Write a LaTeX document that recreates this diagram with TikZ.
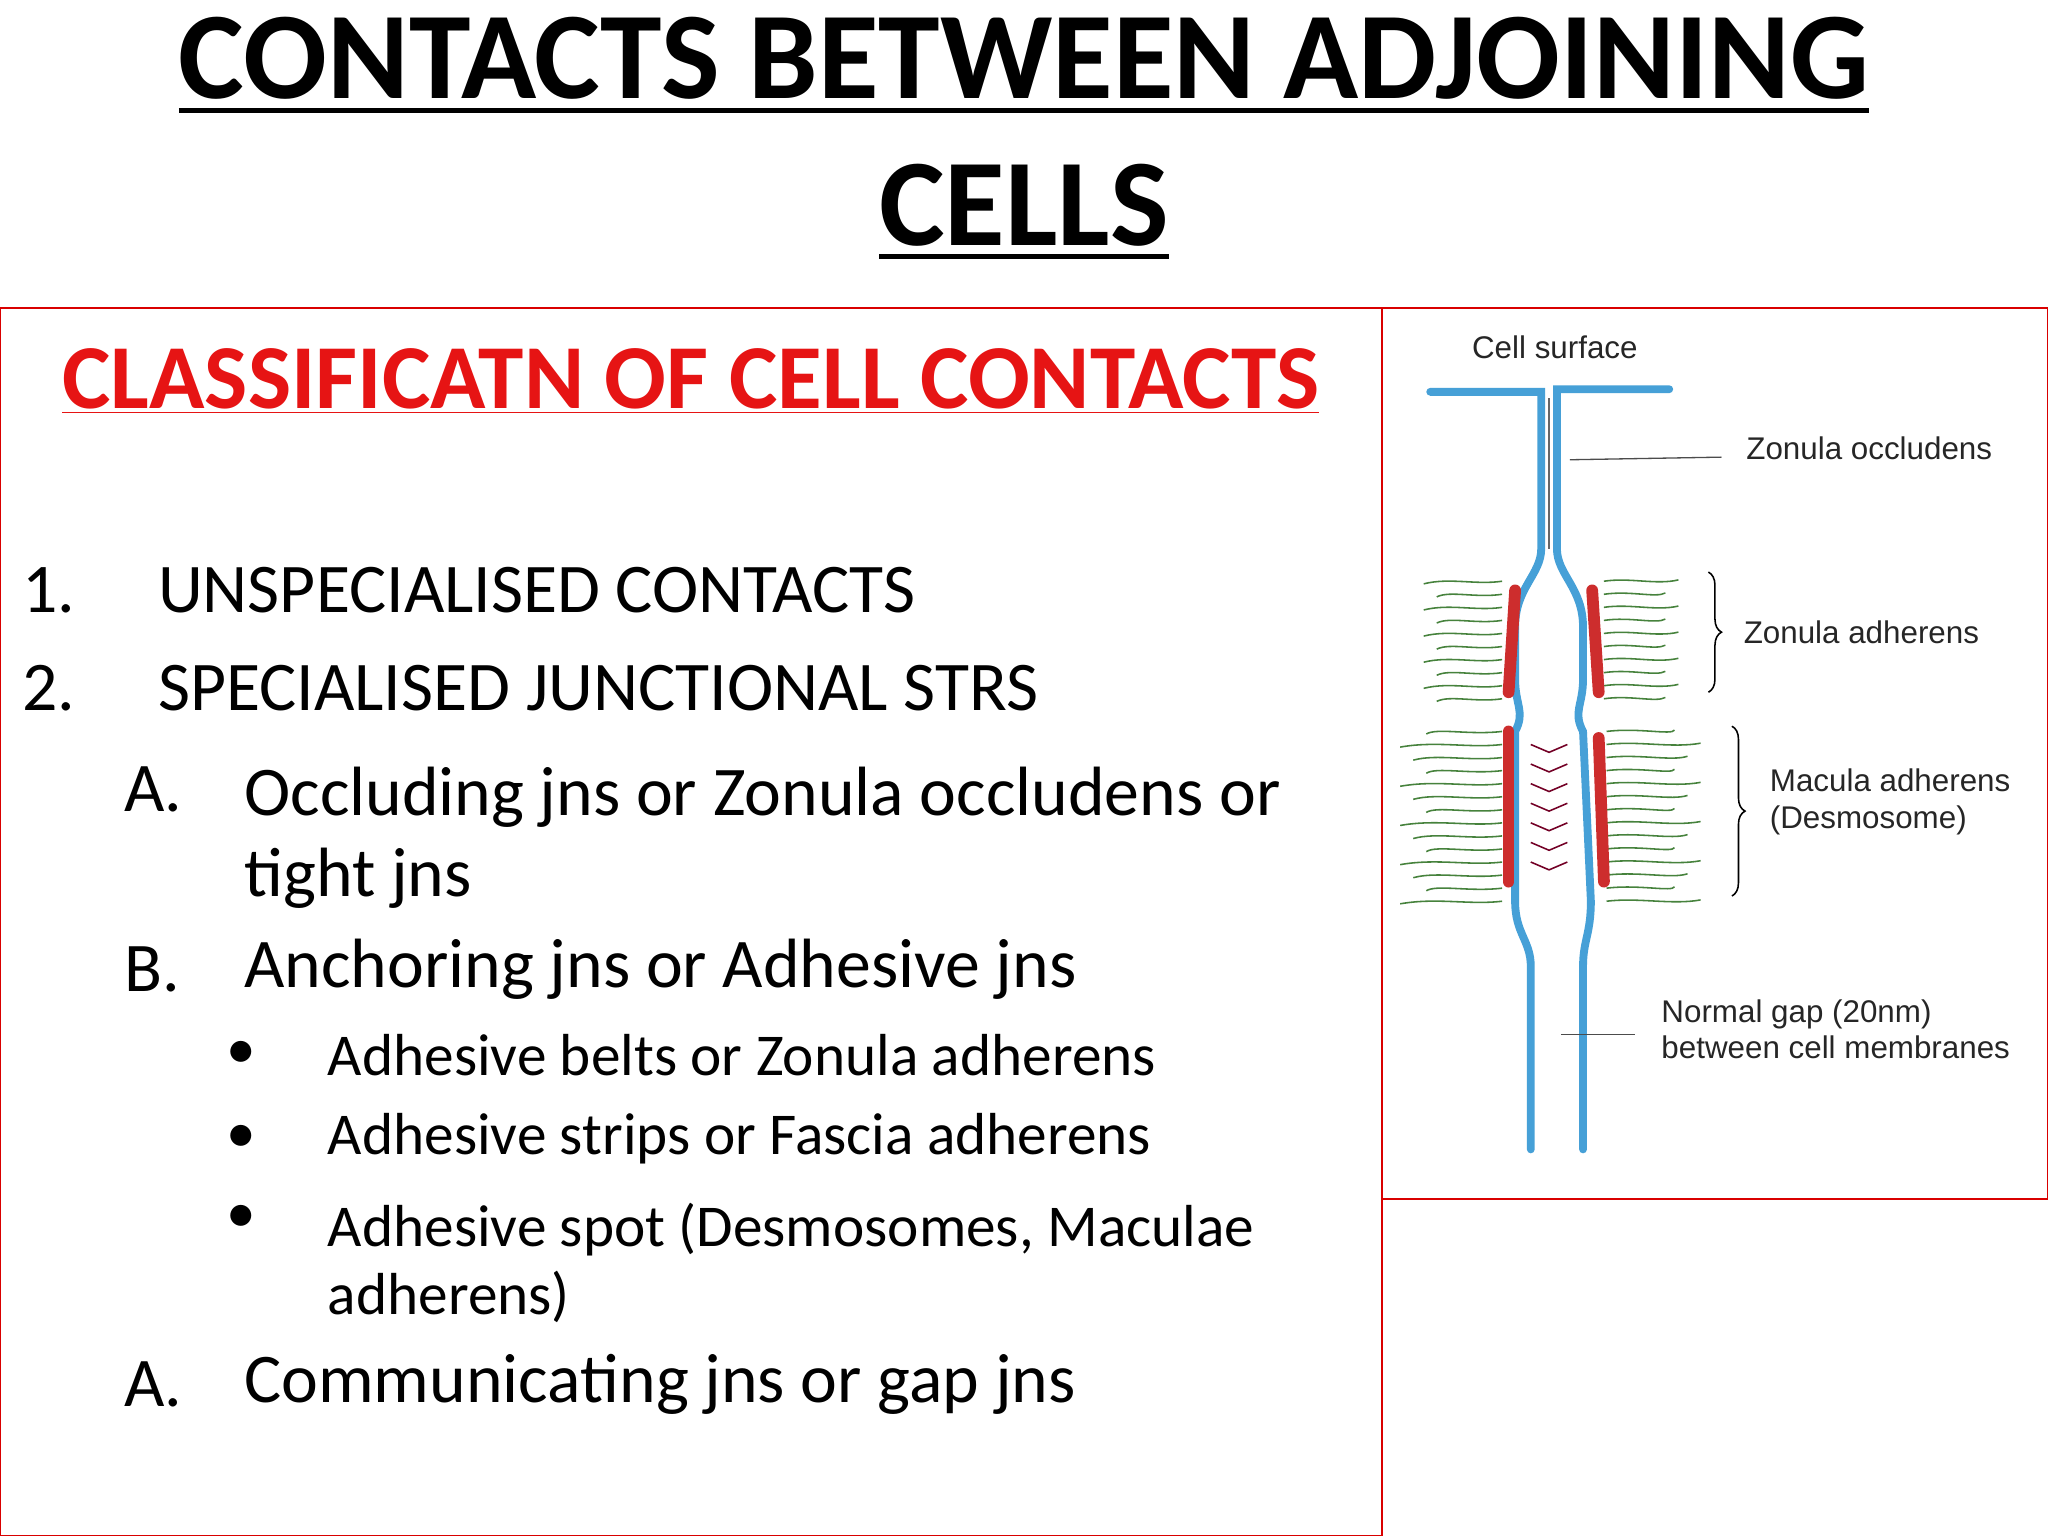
\documentclass[tikz,border=0pt]{standalone}
\usepackage{fontspec}
\setmainfont{Carlito}
\newfontfamily\lab{Liberation Sans}
\usetikzlibrary{decorations.pathreplacing}
\newcommand{\ulthick}[1]{\setbox0\hbox{#1}\rlap{\vrule height -3.5pt depth 5.5pt width \wd0}#1}
\begin{document}
\begin{tikzpicture}[x=0.5pt,y=-0.5pt,
  mem/.style={draw={rgb,255:red,70;green,160;blue,215},line width=3pt,line cap=round},
  plaque/.style={draw={rgb,255:red,205;green,45;blue,45},line width=4.5pt,line cap=round},
  fib/.style={draw={rgb,255:red,70;green,130;blue,60},line width=0.6pt},
  lbl/.style={font=\lab\fontsize{12}{14}\selectfont,anchor=west,align=left,text=black!85},
  item/.style={anchor=west,font=\fontsize{26.7}{31}\selectfont},
  sub/.style={anchor=west,font=\fontsize{22.7}{26}\selectfont}]
\useasboundingbox (0,0) rectangle (1568,1176);
\fill[white] (0,0) rectangle (1568,1176);
% title
\node (t1) at (784,50) {\fontsize{47.5}{57}\selectfont\bfseries\ulthick{CONTACTS BETWEEN ADJOINING}};
\node (t2) at (784,162) {\fontsize{47.5}{57}\selectfont\bfseries\ulthick{CELLS}};
% boxes
\draw[red!85!black,line width=0.6pt] (0,236) rectangle (1058,1176);
\draw[red!85!black,line width=0.6pt] (1058,236) rectangle (1568,918);
\node[text={rgb,255:red,230;green,20;blue,20}] (h) at (529,292) {\fontsize{35}{42}\selectfont\bfseries\underline{CLASSIFICATN OF CELL CONTACTS}};
\node[item] (n1) at (10,452) {1.};
\node[item] (i1) at (114,452) {UNSPECIALISED CONTACTS};
\node[item] (n2) at (10,527) {2.};
\node[item] (i2) at (114,527) {SPECIALISED JUNCTIONAL STRS};
\node[item] (a1) at (88,604) {A.};
\node[item,align=left,anchor=north west] (ta) at (180,580) {Occluding jns or Zonula occludens or\\[0pt]tight jns};
\node[item] (b1) at (88,742) {B.};
\node[item] (tb) at (180,742) {Anchoring jns or Adhesive jns};
\node[sub] (d1) at (166,808) {\textbullet};
\node[sub] (s1) at (244,808) {Adhesive belts or Zonula adherens};
\node[sub] (d2) at (166,872) {\textbullet};
\node[sub] (s2) at (244,872) {Adhesive strips or Fascia adherens};
\node[sub] (d3) at (166,933) {\textbullet};
\node[sub,align=left,anchor=north west] (s3) at (244,914) {Adhesive spot (Desmosomes, Maculae\\[0pt]adherens)};
\node[item] (a2) at (88,1060) {A.};
\node[item] (tc) at (180,1060) {Communicating jns or gap jns};
% diagram fibres
\foreach \y in {445,455,...,535} {
  \draw[fib] (1150,\y) .. controls (1130,{\y+3}) and (1110,{\y-3}) .. ({1085+mod(\y,20)},{\y+2});
  \draw[fib] (1228,\y) .. controls (1248,{\y-3}) and (1268,{\y+3}) .. ({1290-mod(\y,20)},{\y-1});}
\foreach \y in {560,570,...,690} {
  \draw[fib] (1150,\y) .. controls (1125,{\y+3}) and (1100,{\y-3}) .. ({1072+mod(\y,30)},{\y+2});
  \draw[fib] (1230,\y) .. controls (1255,{\y-3}) and (1280,{\y+3}) .. ({1302-mod(\y,30)},{\y-1});}
% membranes
\coordinate (lt) at (1095,300); \coordinate (rt) at (1278,298);
\draw[mem] (lt) -- (1180,300) -- (1180,420) .. controls (1180,440) and (1160,450) .. (1160,480)
  -- (1160,520) .. controls (1160,540) and (1168,545) .. (1160,560) -- (1160,690)
  .. controls (1160,715) and (1172,720) .. (1172,740) -- (1172,880);
\draw[mem] (rt) -- (1192,298) -- (1192,420) .. controls (1192,440) and (1212,450) .. (1212,480)
  -- (1212,520) .. controls (1212,540) and (1204,545) .. (1212,560) -- (1218,690)
  .. controls (1218,715) and (1212,720) .. (1212,740) -- (1212,880);
\draw[black!60,line width=0.6pt] (1186,305) -- (1186,420);
% plaques
\draw[plaque] (1160,452) -- (1155,530);
\draw[plaque] (1219,452) -- (1224,530);
\draw[plaque] (1155,560) -- (1155,675);
\draw[plaque] (1224,565) -- (1228,675);
% desmosome core
\foreach \y in {570,585,...,660} {
  \draw[purple!60!black,line width=0.6pt] (1172,\y) -- (1186,{\y+6}) -- (1200,\y);}
% labels
\node[lbl] (cs) at (1120,266) {Cell surface};
\node[lbl] (zo) at (1330,343) {Zonula occludens};
\draw[black!70,line width=0.5pt] (1202,352) -- (1318,350);
\node[lbl] (za) at (1328,484) {Zonula adherens};
\draw[decorate,decoration={brace,amplitude=5pt},line width=0.6pt] (1308,438) -- (1308,530);
\node[lbl] (ma) at (1348,614) {Macula adherens\\(Desmosome)};
\draw[decorate,decoration={brace,amplitude=5pt},line width=0.6pt] (1326,556) -- (1326,686);
\node[lbl] (ng) at (1265,788) {Normal gap (20nm)\\between cell membranes};
\draw[black!70,line width=0.5pt] (1195,792) -- (1252,792);
\end{tikzpicture}
\end{document}
